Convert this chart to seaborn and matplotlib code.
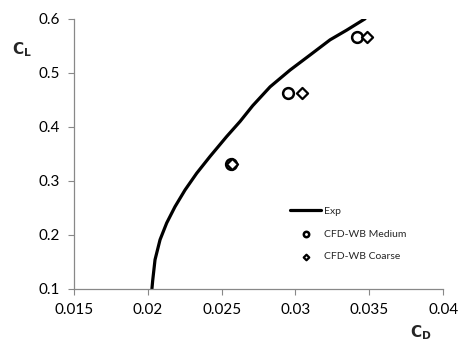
import numpy as np
import pandas as pd
import seaborn as sns
import matplotlib.pyplot as plt

# Exp curve
exp_cd = [0.02028, 0.02033, 0.02049, 0.02083, 0.02128, 0.02184, 0.02252, 0.02331,
          0.02421, 0.02534, 0.02625, 0.02710, 0.02828, 0.02963, 0.03099,
          0.03234, 0.03347, 0.03471]
exp_cl = [0.100, 0.115, 0.154, 0.191, 0.222, 0.252, 0.283, 0.314,
          0.345, 0.382, 0.410, 0.439, 0.474, 0.505, 0.533,
          0.561, 0.579, 0.600]

# CFD points
medium_cd = [0.02564, 0.02948, 0.03415]
medium_cl = [0.331, 0.463, 0.567]
coarse_cd = [0.02573, 0.03043, 0.03483]
coarse_cl = [0.331, 0.463, 0.566]

sns.set_style("ticks")
plt.rcParams['font.family'] = ['Lato', 'DejaVu Sans']

fig = plt.figure(figsize=(4.74, 3.54), dpi=100)
ax = fig.add_axes([0.156, 0.184, 0.779, 0.763])

df_exp = pd.DataFrame({"CD": exp_cd, "CL": exp_cl})
sns.lineplot(data=df_exp, x="CD", y="CL", color="black", lw=2.3,
             sort=False, label="Exp", ax=ax)
sns.scatterplot(x=medium_cd, y=medium_cl, marker="o", s=60,
                facecolor="white", edgecolor="black", linewidth=1.8,
                label="CFD-WB Medium", ax=ax, zorder=3)
sns.scatterplot(x=coarse_cd, y=coarse_cl, marker="D", s=32,
                facecolor="white", edgecolor="black", linewidth=1.6,
                label="CFD-WB Coarse", ax=ax, zorder=3)

ax.set_xlim(0.015, 0.04)
ax.set_ylim(0.1, 0.6)
ax.set_xticks([0.015, 0.02, 0.025, 0.03, 0.035, 0.04])
ax.set_xticklabels(["0.015", "0.02", "0.025", "0.03", "0.035", "0.04"])
ax.set_yticks([0.1, 0.2, 0.3, 0.4, 0.5, 0.6])
ax.set_yticklabels(["0.1", "0.2", "0.3", "0.4", "0.5", "0.6"])
ax.tick_params(colors="#888888", labelcolor="black", labelsize=11, length=4,
               width=0.8, pad=6)
for s in ["left", "bottom"]:
    ax.spines[s].set_color("#888888")
    ax.spines[s].set_linewidth(0.9)
sns.despine(ax=ax)

ax.set_xlabel("")
ax.set_ylabel("")
fig.text(0.025, 0.86, r"$\mathbf{C_L}$", fontsize=11, ha="left", va="center")
fig.text(0.865, 0.06, r"$\mathbf{C_D}$", fontsize=11, ha="left", va="center")

leg = ax.legend(loc="upper left", bbox_to_anchor=(0.56, 0.34), frameon=False,
                fontsize=7.5, markerscale=0.5, handlelength=3.0,
                labelspacing=1.3, handletextpad=0.3)

fig.savefig("out.png", dpi=100)
